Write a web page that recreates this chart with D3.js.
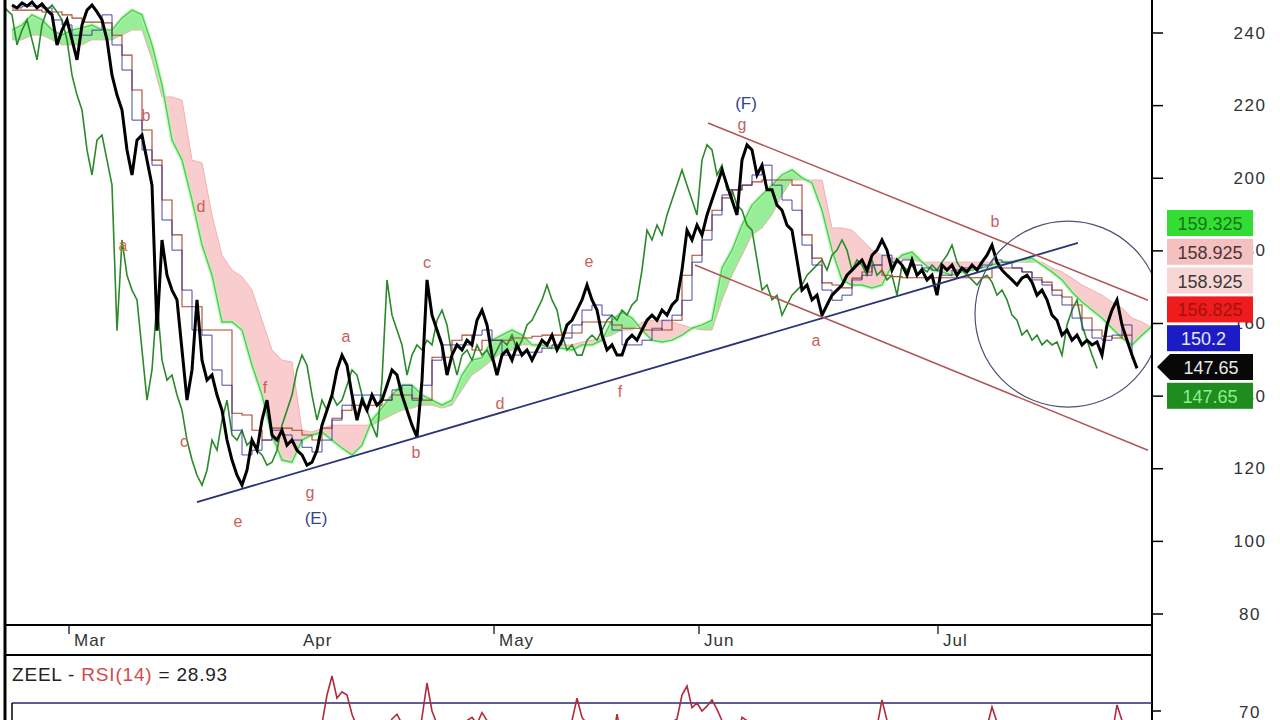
<!DOCTYPE html>
<html><head><meta charset="utf-8">
<script src="https://cdn.jsdelivr.net/npm/d3@7"></script>
<style>body{margin:0;background:#fff;} svg{display:block;font-family:"Liberation Sans",Arial,sans-serif;}</style>
</head><body><svg id="c" width="1280" height="720"></svg>
<script>
// ---- data (one bar every index; tenkan/kijun/cloud sampled every 2 bars) ----
const priceClose = [
247.7,246.9,248.3,247.4,248.5,246.9,248.0,246.3,245.0,236.7,
240.8,243.6,238.1,232.6,242.2,246.3,247.7,245.8,243.6,238.1,
228.4,222.9,218.8,207.8,200.9,210.5,211.9,205.0,198.1,158.0,
183.0,173.3,169.2,166.5,152.7,138.9,147.2,166.5,149.9,144.4,
145.8,140.3,136.1,127.9,122.4,118.2,115.5,119.6,127.9,125.1,
133.4,138.9,129.3,127.9,130.6,126.5,127.9,125.1,123.8,121.0,
121.8,125.1,132.0,136.1,140.3,147.2,151.3,148.5,140.3,133.4,
138.9,136.1,140.3,137.5,138.9,143.0,147.2,145.8,140.3,136.1,
132.0,128.7,144.4,172.0,162.3,158.2,154.1,145.8,151.3,154.1,
152.7,155.4,154.1,160.9,163.7,159.6,151.3,145.8,151.3,152.7,
149.9,154.1,151.3,152.7,149.9,152.7,155.4,154.1,156.8,152.7,
155.4,159.6,160.9,163.7,166.5,170.6,166.5,163.7,156.8,152.7,
154.1,151.3,151.3,155.4,156.8,155.4,158.2,160.9,162.3,160.9,
163.7,162.3,165.1,166.5,174.7,185.7,183.0,187.1,184.4,189.9,
194.0,198.1,202.3,198.1,194.0,189.9,205.0,209.2,207.8,200.9,
203.6,196.8,196.8,192.6,191.2,187.1,185.7,177.5,169.2,170.6,
166.5,167.8,162.3,165.1,167.8,169.2,170.6,173.3,174.7,176.1,
177.5,174.7,178.8,180.2,183.0,180.2,174.7,177.5,176.1,173.3,
177.5,173.3,174.7,172.0,173.3,167.8,176.1,174.7,176.1,173.3,
175.3,174.2,176.1,174.7,176.9,178.8,181.6,176.9,174.7,173.3,
172.0,170.6,172.5,173.3,171.4,167.8,169.2,166.5,162.3,160.9,
156.8,158.2,155.4,156.8,154.1,155.4,154.1,154.9,151.3,159.6,
163.7,166.5,159.6,155.4,151.3,147.65];

const tenkan = [
246.9,247.4,247.4,246.9,243.6,242.2,239.4,239.4,240.8,245.0,
236.7,229.8,216.0,207.8,203.6,188.5,180.2,169.2,158.2,156.8,
147.2,143.0,130.6,123.8,125.1,127.9,130.6,129.3,127.9,125.9,
124.6,127.9,133.4,137.5,140.3,140.3,140.3,138.9,141.7,143.0,
138.9,143.0,149.9,154.1,154.1,154.1,156.8,158.2,155.4,151.3,
151.3,152.1,152.1,153.2,154.1,156.0,159.6,163.7,165.1,162.3,
158.2,154.1,154.1,155.4,158.2,160.9,162.3,166.4,176.9,183.0,
189.9,195.4,196.8,198.1,200.9,203.6,198.1,194.0,191.2,181.6,
176.1,169.2,166.4,167.8,172.0,173.3,176.1,178.8,176.9,177.5,
176.1,175.3,174.7,173.3,174.7,175.3,175.3,176.1,177.5,176.9,
175.3,174.2,172.0,170.6,167.8,165.1,161.5,158.2,156.0,155.4,
156.8,159.6,150.2];

const kijun = [
246.3,246.3,246.3,245.8,245.8,245.0,244.1,243.0,243.0,242.8,
239.4,233.9,224.3,213.3,205.0,194.0,184.4,164.6,164.6,158.2,
158.2,158.2,135.3,134.8,130.6,127.9,131.2,131.2,130.6,129.3,
127.9,131.2,133.9,136.1,137.5,137.5,137.5,138.9,140.3,140.3,
139.4,138.9,150.7,150.7,155.4,156.8,152.7,155.4,155.4,155.4,
156.0,156.0,156.5,156.8,156.8,157.4,157.4,160.4,160.4,160.4,
159.6,158.7,158.7,158.2,158.7,158.2,160.9,173.3,178.8,185.7,
191.2,194.6,196.8,198.1,199.0,199.5,199.5,199.5,198.1,184.4,
178.0,171.2,170.6,169.8,172.5,174.2,176.1,173.3,172.9,172.6,
172.6,172.6,172.6,172.6,172.6,172.6,172.6,172.6,175.3,175.3,
175.3,174.2,172.6,171.4,169.2,167.3,165.1,161.5,158.2,156.5,
156.0,156.8,156.8];

const senkouA = [
240.8,242.2,245.0,243.6,240.8,239.4,240.8,241.4,242.2,240.8,
240.8,244.1,246.3,245.0,236.7,225.7,210.5,205.0,194.0,181.6,
173.3,160.4,160.4,158.2,148.5,140.3,129.3,122.4,121.8,127.9,
129.3,130.1,127.9,125.7,123.8,126.5,133.4,136.7,140.3,143.0,
143.0,140.3,138.9,137.5,138.9,145.8,149.9,150.5,155.4,156.8,
158.2,156.8,154.1,154.1,153.2,153.2,152.7,154.1,154.1,155.4,
160.9,163.1,161.5,158.2,155.4,154.9,155.4,156.8,158.7,159.6,
160.9,175.3,180.2,187.1,192.6,195.4,198.1,200.9,202.3,200.1,
198.7,191.2,180.2,172.0,170.6,170.6,169.8,170.6,176.1,178.8,
179.7,176.9,174.7,174.2,173.3,174.2,174.7,175.3,176.1,176.9,
176.9,177.5,178.0,176.1,174.2,172.0,168.7,165.9,163.7,161.5,
158.7,156.0,154.1,156.8,159.3];

const senkouB = [
238.1,238.1,239.4,239.4,238.1,236.7,236.7,236.7,238.1,238.1,
238.1,239.4,240.8,240.8,232.6,222.4,222.4,221.5,205.0,204.2,
189.9,178.8,174.7,172.9,169.2,160.9,152.7,149.9,149.4,130.6,
130.1,131.1,132.0,132.0,132.0,132.0,132.0,133.4,134.8,136.1,
136.7,137.5,137.5,136.7,137.5,141.7,145.8,147.7,149.9,152.1,
152.7,154.1,154.1,153.2,154.1,154.1,154.1,154.9,155.4,156.0,
156.8,158.2,158.2,160.4,160.9,160.9,160.4,159.6,158.7,158.2,
158.2,166.4,173.3,178.8,184.4,186.3,189.9,195.4,199.5,199.5,
199.5,199.5,186.3,186.3,185.7,183.0,180.2,178.8,178.0,178.0,
177.5,176.9,176.9,176.9,176.9,176.9,176.9,176.9,176.9,176.9,
176.9,176.9,176.9,176.9,175.3,174.2,172.5,170.6,169.2,167.8,
165.9,164.3,161.5,160.4,158.9];

const rsi14 = [
45,42,44,40,38,41,43,36,34,30, 33,37,35,30,38,42,44,40,36,31,
28,26,25,24,27,33,35,30,27,24, 26,24,23,22,20,24,30,34,26,24,
25,24,22,20,19,18,20,26,30,32, 38,42,36,35,38,36,38,37,36,35,
38,48,62,80,91.9,78,82,80,68,60, 55,58,56,60,58,59,65,68,62,55,
52,48,66,87.5,70,62,58,52,55,58, 57,64,66,62,69,64,55,48,52,54,
52,56,54,55,53,56,58,57,60,56, 58,62,64,78,66,62,58,50,45,47,
48,68,52,55,57,56,59,61,62,60, 62,61,63,65,80,85.6,72,75,70,73,
76.9,71,64,58,55,52,66,64,62,58, 60,55,54,52,50,48,47,40,35,38,
36,40,35,40,43,45,47,50,52,54, 56,53,58,60,76.9,64,52,56,54,50,
56,50,52,48,50,42,54,52,55,50, 54,52,55,53,57,60,72.5,63,55,52,
50,47,50,51,49,44,46,42,38,37, 33,35,32,36,33,35,33,34,32,40,
55,73.8,64,50,40,28.93];

const chikouShift = 8;            // lagging span, bars
const monthLabels = ["Mar","Apr","May","Jun","Jul"];
const monthBars = [11.4, 57.2, 96.4, 137.4, 185.2];
const priceTicks = [80,100,120,140,160,180,200,220,240];
const rsiLevel = 75, rsiTick = 70;
const lastValues = ["159.325","158.925","158.925","156.825","150.2","147.65","147.65"];
const waveLabels = [
 ["b",26.8,217.4],["d",37.8,192.3],["a",22.2,181.6],["c",34.4,127.6],["e",45.2,105.6],
 ["g",59.6,113.5],["f",50.6,142.5],["a",66.8,156.3],["b",80.8,124.6],["c",83,176.9],
 ["d",97.6,138.1],["e",115.4,177.2],["f",121.6,141.4],["g",146,214.7],["a",160.8,155.2],["b",196.6,188.2]];
const degreeLabels = [["(E)",60.8,106.4],["(F)",146.8,220.7]];
const supportLine = [[37,110.8],[213.2,182.2]];
const channelUpper = [[139.2,215.2],[227.2,166.4]];
const channelLower = [[136.6,176.1],[227.2,125.1]];
const circleCenter = [211.2,162.6];

// ---- layout ----
const svg = d3.select("#c");
const x = d3.scaleLinear().domain([0, priceClose.length-1]).range([12, 1137]);
const y = d3.scaleLinear().domain([80, 240]).range([614, 33]);
const yr = d3.scaleLinear().domain([0, 100]).range([823, 663]);
const axisX = 1152, mainBottom = 624;

const defs = svg.append("defs");
defs.append("clipPath").attr("id","mainClip").append("rect").attr("x",6).attr("y",0).attr("width",axisX-6).attr("height",mainBottom);
defs.append("clipPath").attr("id","rsiClip").append("rect").attr("x",6).attr("y",656).attr("width",axisX-6).attr("height",70);

const main = svg.append("g").attr("clip-path","url(#mainClip)");

// cloud
const cl = d3.range(senkouA.length);
const cx = j => x(2*j);
defs.append("clipPath").attr("id","belowA").append("path")
  .attr("d", d3.area().x(cx).y0(mainBottom).y1(j=>y(senkouA[j]))(cl));
defs.append("clipPath").attr("id","aboveA").append("path")
  .attr("d", d3.area().x(cx).y0(0).y1(j=>y(senkouA[j]))(cl));
main.append("path").attr("clip-path","url(#belowA)")
  .attr("d", d3.area().x(cx).y0(0).y1(j=>y(senkouB[j]))(cl))
  .attr("fill","#98ee98");
main.append("path").attr("clip-path","url(#aboveA)")
  .attr("d", d3.area().x(cx).y0(mainBottom).y1(j=>y(senkouB[j]))(cl))
  .attr("fill","#f9cdcd");
main.append("path").attr("d", d3.line().x(cx).y(j=>y(senkouB[j]))(cl))
  .attr("fill","none").attr("stroke","#f2b0b0").attr("stroke-width",1);
main.append("path").attr("d", d3.line().x(cx).y(j=>y(senkouA[j]))(cl))
  .attr("fill","none").attr("stroke","#b8f5b8").attr("stroke-width",4).attr("opacity",0.7);
main.append("path").attr("d", d3.line().x(cx).y(j=>y(senkouA[j]))(cl))
  .attr("fill","none").attr("stroke","#4fcf4f").attr("stroke-width",1.4);

// lagging span
main.append("path")
  .attr("d", d3.line().x((d,i)=>x(i-chikouShift)).y(d=>y(d))(priceClose))
  .attr("fill","none").attr("stroke","#2a8a2a").attr("stroke-width",1.6);

// kijun / tenkan
const tk = d3.range(kijun.length);
main.append("path").attr("d", d3.line().curve(d3.curveStepAfter).x(cx).y(j=>y(kijun[j]))(tk))
  .attr("fill","none").attr("stroke","#a8482e").attr("stroke-width",1.1);
main.append("path").attr("d", d3.line().curve(d3.curveStepAfter).x(cx).y(j=>y(tenkan[j]))(d3.range(tenkan.length)))
  .attr("fill","none").attr("stroke","#2a2a96").attr("stroke-width",1.0).attr("opacity",0.85);

// price
main.append("path").attr("d", d3.line().x((d,i)=>x(i)).y(d=>y(d))(priceClose))
  .attr("fill","none").attr("stroke","#000").attr("stroke-width",3).attr("stroke-linejoin","miter");

// trend lines
const tl = d3.line().x(d=>x(d[0])).y(d=>y(d[1]));
main.append("path").attr("d", tl(supportLine)).attr("stroke","#2a3278").attr("stroke-width",1.8).attr("fill","none");
main.append("path").attr("d", tl(channelUpper)).attr("stroke","#b35555").attr("stroke-width",1.5).attr("fill","none");
main.append("path").attr("d", tl(channelLower)).attr("stroke","#b35555").attr("stroke-width",1.5).attr("fill","none");
main.append("circle").attr("cx", x(circleCenter[0])).attr("cy", y(circleCenter[1])).attr("r",93)
  .attr("fill","none").attr("stroke","#4a5272").attr("stroke-width",1.2);

// wave labels
main.selectAll("text.w").data(waveLabels).join("text")
  .attr("x",d=>x(d[1])).attr("y",d=>y(d[2])).attr("text-anchor","middle").attr("dominant-baseline","central")
  .attr("font-size",16).attr("fill",(d,i)=> i===2 ? "#d2703a" : "#c8605c").text(d=>d[0]);
main.selectAll("text.d").data(degreeLabels).join("text")
  .attr("x",d=>x(d[1])).attr("y",d=>y(d[2])).attr("text-anchor","middle").attr("dominant-baseline","central")
  .attr("font-size",17).attr("fill","#34448a").text(d=>d[0]);

// frame
svg.append("line").attr("x1",5).attr("x2",5).attr("y1",0).attr("y2",720).attr("stroke","#000").attr("stroke-width",3);
svg.append("line").attr("x1",axisX).attr("x2",axisX).attr("y1",0).attr("y2",720).attr("stroke","#000").attr("stroke-width",2);
svg.append("line").attr("x1",5).attr("x2",axisX).attr("y1",625).attr("y2",625).attr("stroke","#000").attr("stroke-width",2);
svg.append("line").attr("x1",5).attr("x2",axisX).attr("y1",655).attr("y2",655).attr("stroke","#000").attr("stroke-width",2);

// month axis
const mg = svg.append("g");
monthBars.forEach((b,i)=>{
  const px = x(b);
  if (monthLabels[i] !== "Apr")
    mg.append("line").attr("x1",px).attr("x2",px).attr("y1",626).attr("y2",634).attr("stroke","#000").attr("stroke-width",1.2);
  mg.append("text").attr("x",px+5).attr("y",646).attr("font-size",17).attr("letter-spacing",1).attr("fill","#333").text(monthLabels[i]);
});

// price axis
const ag = svg.append("g");
priceTicks.forEach(v=>{
  ag.append("line").attr("x1",axisX).attr("x2",axisX+11).attr("y1",y(v)).attr("y2",y(v)).attr("stroke","#000").attr("stroke-width",1.5);
  ag.append("text").attr("x",1250).attr("y",y(v)).attr("text-anchor","middle").attr("dominant-baseline","central")
    .attr("font-size",17).attr("letter-spacing",1.5).attr("fill","#333").text(v);
});

// last value boxes
const boxFill = ["#33dd33","#f4c0c0","#f9d6d6","#ee1c1c","#1c1cc6","#080808","#1e8c1e"];
const boxText = ["#157515","#4a3636","#3a3a3a","#a81010","#e6e6ff","#e8e8e8","#8cf08c"];
lastValues.forEach((t,k)=>{
  const top = 210 + k*28.8, h = 26;
  const w = t.length <= 5 ? 73 : 86;
  const g = svg.append("g");
  if (k===5) {
    g.append("path").attr("d",`M1157,${top+h/2} L1170,${top} L1253,${top} L1253,${top+h} L1170,${top+h} Z`).attr("fill",boxFill[k]);
  } else {
    g.append("rect").attr("x",1167).attr("y",top).attr("width",w).attr("height",h).attr("fill",boxFill[k]);
  }
  const cxm = k===5 ? 1211 : 1167 + w/2;
  g.append("text").attr("x",cxm).attr("y",top+h/2+1).attr("text-anchor","middle").attr("dominant-baseline","central")
    .attr("font-size",18).attr("fill",boxText[k]).text(t);
});

// RSI panel
const rt = svg.append("text").attr("x",12).attr("y",681).attr("font-size",19).attr("letter-spacing",0.8).attr("fill","#222");
rt.append("tspan").text("ZEEL - ");
rt.append("tspan").attr("fill","#d24a4a").text("RSI(14)");
rt.append("tspan").text(" = 28.93");
svg.append("line").attr("x1",12).attr("x2",axisX).attr("y1",yr(rsiLevel)).attr("y2",yr(rsiLevel)).attr("stroke","#2a2a6a").attr("stroke-width",1.6);
svg.append("line").attr("x1",12).attr("x2",12).attr("y1",yr(rsiLevel)).attr("y2",720).attr("stroke","#000").attr("stroke-width",1.5);
svg.append("g").attr("clip-path","url(#rsiClip)").append("path")
  .attr("d", d3.line().x((d,i)=>x(i)).y(d=>yr(d))(rsi14))
  .attr("fill","none").attr("stroke","#b02a3a").attr("stroke-width",1.6);
svg.append("line").attr("x1",axisX).attr("x2",axisX+9).attr("y1",yr(rsiTick)).attr("y2",yr(rsiTick)).attr("stroke","#000").attr("stroke-width",1.5);
svg.append("text").attr("x",1250).attr("y",yr(rsiTick)+1).attr("text-anchor","middle").attr("dominant-baseline","central")
  .attr("font-size",17).attr("letter-spacing",1.5).attr("fill","#333").text(rsiTick);
</script></body></html>
